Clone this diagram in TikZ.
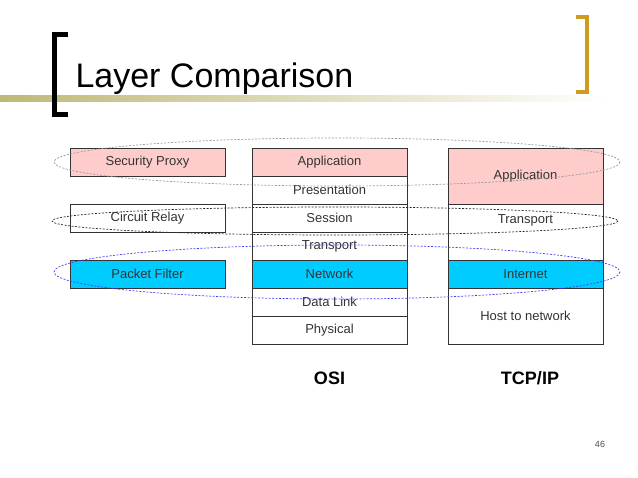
\documentclass[tikz,border=0pt]{standalone}
\usepackage{fontspec}
\setmainfont{Liberation Sans}
\begin{document}
\begin{tikzpicture}[x=1pt,y=-1pt,
  box/.style={draw=black!80,line width=0.6pt,minimum width=155pt,inner sep=0pt,font=\fontsize{13}{15}\selectfont,text=black!80},
  pinkf/.style={fill={rgb,255:red,255;green,204;blue,204}},
  bluef/.style={fill={rgb,255:red,0;green,204;blue,255}},
  ell/.style={line width=0.7pt,dash pattern=on 2pt off 1.5pt}]
\useasboundingbox (0,0) rectangle (638,478);
% title decoration
\shade[left color={rgb,255:red,190;green,185;blue,120},right color=white] (0,96) rectangle (610,102);
\draw[line width=5pt] (68,35) -- (54,35) -- (54,115) -- (68,115);
\draw[line width=4.5pt,color={rgb,255:red,205;green,155;blue,30}] (576,17) -- (587,17) -- (587,92) -- (576,92);
\node[anchor=base west,font=\fontsize{34}{38}\selectfont] (title) at (72,88) {Layer Comparison};
% left column
\node[box,pinkf,minimum height=28pt] (sp) at (147.5,162) {Security Proxy};
\node[box,minimum height=28pt] (cr) at (147.5,218) {Circuit Relay};
\node[box,bluef,minimum height=28pt] (pf) at (147.5,274) {Packet Filter};
% OSI
\node[box,pinkf,minimum height=28pt] (o1) at (329.5,162) {Application};
\node[box,minimum height=28pt] (o2) at (329.5,190) {Presentation};
\node[box,minimum height=28pt] (o3) at (329.5,218) {Session};
\node[box,minimum height=28pt] (o4) at (329.5,246) {Transport};
\node[box,bluef,minimum height=28pt] (o5) at (329.5,274) {Network};
\node[box,minimum height=28pt] (o6) at (329.5,302) {Data Link};
\node[box,minimum height=28pt] (o7) at (329.5,330) {Physical};
% TCP/IP
\node[box,pinkf,minimum height=56pt] (t1) at (525.5,176) {Application};
\node[box,minimum height=56pt,text depth=26pt] (t2) at (525.5,232) {Transport};
\node[box,bluef,minimum height=28pt] (t3) at (525.5,274) {Internet};
\node[box,minimum height=56pt] (t4) at (525.5,316) {Host to network};
% ellipses
\draw[ell,gray!80] (337,162) ellipse (283 and 24);
\draw[ell,black!85] (335,221) ellipse (283 and 14);
\draw[ell,blue!75] (337,272) ellipse (283 and 27);
% labels
\node[font=\bfseries\fontsize{18}{20}\selectfont] (osi) at (329.5,378) {OSI};
\node[font=\bfseries\fontsize{18}{20}\selectfont] (tcp) at (530,378) {TCP/IP};
\node[font=\fontsize{9}{10}\selectfont,text=black!70] (pg) at (600,444) {46};
\end{tikzpicture}
\end{document}
